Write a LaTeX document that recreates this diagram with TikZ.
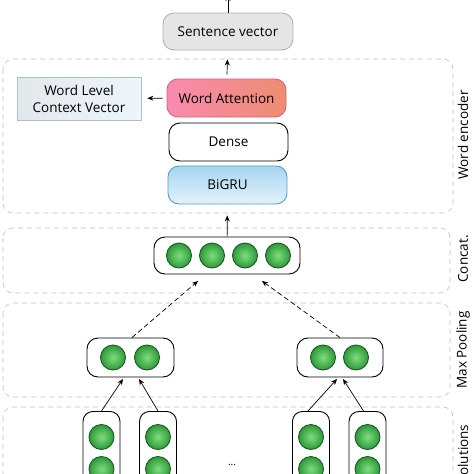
\documentclass[tikz,border=0pt]{standalone}
\usepackage{fontspec}
\setmainfont{Open Sans}
\usepackage{tikz}
\usetikzlibrary{calc}
\usetikzlibrary{arrows.meta}

\definecolor{attL}{HTML}{F88BB0}
\definecolor{attR}{HTML}{EE8C70}
\definecolor{attB}{HTML}{D9607C}
\definecolor{gruT}{HTML}{A6D6F0}
\definecolor{gruB}{HTML}{E2F2FB}
\definecolor{gruD}{HTML}{4F9FCC}
\definecolor{ctxL}{HTML}{E3E8EC}
\definecolor{ctxR}{HTML}{EEF6FB}
\definecolor{ctxD}{HTML}{A8C0D2}
\definecolor{ballIn}{HTML}{80DC80}
\definecolor{ballOut}{HTML}{2C9A38}
\definecolor{ballD}{HTML}{1E5A22}

\begin{document}
\begin{tikzpicture}[x=1pt,y=-1pt,
  font=\fontsize{13.5}{15}\selectfont,
  >={Stealth[length=6pt,width=5pt]},
  every path/.style={line width=0.7pt},
  panel/.style={draw=black!25,dashed,dash pattern=on 5pt off 4pt,line width=0.6pt,rounded corners=10pt},
  lab/.style={rotate=90,font=\fontsize{13.5}{15}\selectfont},
  layer/.style={draw=black,line width=0.9pt,rounded corners=11pt,minimum width=119pt,minimum height=38pt,inner sep=0pt},
  holder/.style={draw=black,line width=0.9pt,rounded corners=11pt,inner sep=0pt},
  ball/.style={circle,draw=ballD,line width=0.9pt,minimum size=25pt,inner sep=0pt,
    inner color=ballIn,outer color=ballOut}]
  \useasboundingbox (0,0) rectangle (474,474);

  % panels
  \draw[panel] (3,59) rectangle (453,213);
  \draw[panel] (3,228) rectangle (450,293);
  \draw[panel] (3,303) rectangle (450,397);
  \draw[panel] (3,407) rectangle (453,520);
  \node[lab] (lWE) at (463,135) {Word encoder};
  \node[lab] (lCC) at (463,259) {Concat.};
  \node[lab] (lMP) at (463,350) {Max Pooling};
  \node[lab,anchor=east] (lCV) at (463,421) {Convolutions};

  % word encoder
  \node[layer,draw=black!30,fill=black!10,minimum width=130pt,minimum height=37pt] (sent) at (228,31.5) {Sentence vector};
  \node[layer,draw=attB,left color=attL,right color=attR] (att) at (226.5,98) {Word Attention};
  \node[layer,fill=white] (dense) at (228.5,142) {Dense};
  \node[layer,draw=gruD,top color=gruT,bottom color=gruB] (gru) at (227.5,185) {BiGRU};
  \node[draw=ctxD,line width=0.8pt,left color=ctxL,right color=ctxR,minimum width=124pt,minimum height=43pt,
    align=center,inner sep=0pt,font=\fontsize{13.5}{17}\selectfont] (ctx) at (79,98.5) {Word Level\\Context Vector};
  \coordinate (top) at (228,-5);
  \draw[->] (sent) -- (top);
  \draw[->,shorten <=4pt,shorten >=9pt] (att) -- (sent);
  \draw[->,shorten <=4pt,shorten >=6pt] (att) -- (ctx);

  % concat
  \node[holder,minimum width=146pt,minimum height=37pt] (cat) at (227,255.5) {};
  \foreach \i/\x in {1/179,2/212,3/245,4/278}
    \node[ball] (c\i) at (\x,255.5) {};
  \draw[->,shorten >=11pt] (cat) -- (gru);

  % max pooling
  \node[holder,minimum width=87pt,minimum height=39pt] (pA) at (130.5,357.5) {};
  \node[holder,minimum width=86pt,minimum height=39pt] (pB) at (340,357.5) {};
  \node[ball] (pA1) at (113,357.5) {};
  \node[ball] (pA2) at (147,357.5) {};
  \node[ball] (pB1) at (323,357.5) {};
  \node[ball] (pB2) at (356,357.5) {};
  \coordinate (catA) at (198,281);
  \coordinate (catB) at (262,281);
  \coordinate (pAt) at ($(pA.north)+(1.5,0)$);
  \coordinate (pBt) at (pB.north);
  \draw[->,dashed,dash pattern=on 5pt off 3pt] (pAt) -- (catA);
  \draw[->,dashed,dash pattern=on 5pt off 3pt] (pBt) -- (catB);

  % convolutions
  \foreach \n/\x in {1/101.5,2/158,3/311,4/367.5} {
    \node[holder,rounded corners=10pt,minimum width=37pt,minimum height=110pt,anchor=north] (k\n) at (\x,411) {};
    \node[ball] (k\n a) at (\x,437) {};
    \node[ball] (k\n b) at (\x,469) {};
    \node[ball] (k\n c) at (\x,501) {};
  }
  \coordinate (pAl) at (123,379);
  \coordinate (pAr) at (139,379);
  \coordinate (pBl) at (337,379);
  \coordinate (pBr) at (343,379);
  \coordinate (k3t) at ($(k3.north)+(-3,0)$);
  \coordinate (k4t) at ($(k4.north)+(-4,0)$);
  \draw[->] (k1.north) -- (pAl);
  \draw[->] (k2.north) -- (pAr);
  \draw[->] (k3t) -- (pBl);
  \draw[->] (k4t) -- (pBr);
  \node[font=\fontsize{10}{10}\selectfont] (dots) at (232,465) {...};
\end{tikzpicture}
\end{document}
